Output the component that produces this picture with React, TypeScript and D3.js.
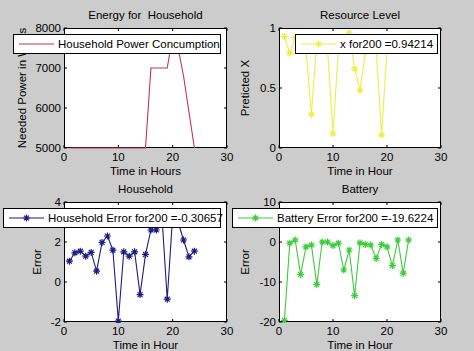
import * as d3 from 'd3';
import { useEffect, useRef } from 'react';

const hours = [1, 2, 3, 4, 5, 6, 7, 8, 9, 10, 11, 12, 13, 14, 15, 16, 17, 18, 19, 20, 21, 22, 23, 24];

const powerValues = [
  5000, 5000, 5000, 5000, 5000, 5000, 5000, 5000, 5000, 5000, 5000, 5000, 5000, 5000, 5000,
  7000, 7000, 7000, 7000, 7800, 7500, 6800, 5900, 5000,
];
const resourceValues = [
  0.93, 0.79, 0.92, 0.88, 0.82, 0.28, 0.9, 0.88, 0.82, 0.12, 0.82, 0.9,
  0.96, 0.66, 0.48, 0.8, 0.88, 0.82, 0.11, 0.82, 0.88, 0.9, 0.86, 0.9,
];
const householdErrorValues = [
  1.04, 1.46, 1.54, 1.29, 1.48, 0.54, 1.98, 2.3, 1.59, -1.95, 1.51, 1.29,
  1.51, -0.63, 1.38, 2.6, 2.6, 3.4, -0.86, 3.3, 3.0, 2.1, 1.26, 1.54,
];
const batteryErrorValues = [
  -19.6, -0.3, 0.5, -8.1, -1.2, -0.75, -10.6, 0, 0, -0.9, -0.3, -7,
  -2, -13.4, -0.2, -0.6, -0.75, -4.1, -0.6, -1.2, -5.9, 0.5, -7.8, 0.5,
];

const xTicks = [0, 10, 20, 30];
const powerTicks = [5000, 6000, 7000, 8000];
const resourceTicks = [0, 0.5, 1];
const householdTicks = [-2, 0, 2, 4];
const batteryTicks = [-20, -10, 0, 10];

const titles = ['Energy for  Household', 'Resource Level', 'Household', 'Battery'];
const xLabels = ['Time in Hours', 'Time in Hour', 'Time in Hour', 'Time in Hour'];
const yLabels = ['Needed Power in Watts', 'Preticted X', 'Error', 'Error'];
const legendLabels = [
  'Household Power Concumption',
  'x for200 =0.94214',
  'Household Error for200 =-0.30657',
  'Battery Error for200 =-19.6224',
];

const FONT = '"Liberation Sans", Arial, sans-serif';

const panels = [
  {
    values: powerValues, ticks: powerTicks, color: '#c03848', marker: false,
    box: [64, 28, 227, 148], yLabelX: 23, legend: [13, 34, 221, 54],
  },
  {
    values: resourceValues, ticks: resourceTicks, color: '#eeee48', marker: true,
    box: [279, 28, 441, 148], yLabelX: 246, legend: [295, 34, 438, 54],
  },
  {
    values: householdErrorValues, ticks: householdTicks, color: '#1c1c84', marker: true,
    box: [64, 202, 227, 322], yLabelX: 38, legend: [3, 208, 221, 228],
  },
  {
    values: batteryErrorValues, ticks: batteryTicks, color: '#3ccc3c', marker: true,
    box: [279, 202, 441, 322], yLabelX: 246, legend: [232, 208, 438, 228],
  },
];

function asterisk(cx, cy, r) {
  const d = r * 0.7;
  return `M${cx - r},${cy}L${cx + r},${cy}M${cx},${cy - r}L${cx},${cy + r}` +
    `M${cx - d},${cy - d}L${cx + d},${cy + d}M${cx - d},${cy + d}L${cx + d},${cy - d}`;
}

const App = () => {
  const ref = useRef(null);

  useEffect(() => {
    const svg = d3.select(ref.current);
    svg.selectAll('*').remove();

    svg.append('rect').attr('width', 474).attr('height', 351).attr('fill', '#cccccc');

    panels.forEach((panel, i) => {
      const [x0, y0, x1, y1] = panel.box;
      const x = d3.scaleLinear().domain([0, 30]).range([x0, x1]);
      const y = d3.scaleLinear()
        .domain([panel.ticks[0], panel.ticks[panel.ticks.length - 1]])
        .range([y1, y0]);

      const g = svg.append('g');
      g.append('rect')
        .attr('x', x0).attr('y', y0)
        .attr('width', x1 - x0).attr('height', y1 - y0)
        .attr('fill', '#ffffff');

      // ticks pointing inward on all four sides
      const tickLen = 3;
      xTicks.forEach((t) => {
        g.append('line').attr('x1', x(t)).attr('x2', x(t)).attr('y1', y1).attr('y2', y1 - tickLen)
          .attr('stroke', '#000');
        g.append('line').attr('x1', x(t)).attr('x2', x(t)).attr('y1', y0).attr('y2', y0 + tickLen)
          .attr('stroke', '#000');
        g.append('text')
          .attr('x', x(t)).attr('y', y1 + 13)
          .attr('text-anchor', 'middle')
          .style('font-family', FONT).style('font-size', '11.5px')
          .text(t);
      });
      panel.ticks.forEach((t) => {
        g.append('line').attr('x1', x0).attr('x2', x0 + tickLen).attr('y1', y(t)).attr('y2', y(t))
          .attr('stroke', '#000');
        g.append('line').attr('x1', x1).attr('x2', x1 - tickLen).attr('y1', y(t)).attr('y2', y(t))
          .attr('stroke', '#000');
        g.append('text')
          .attr('x', x0 - 3).attr('y', y(t) + 4)
          .attr('text-anchor', 'end')
          .style('font-family', FONT).style('font-size', '11.5px')
          .text(t);
      });

      g.append('rect')
        .attr('x', x0 + 0.5).attr('y', y0 + 0.5)
        .attr('width', x1 - x0 - 1).attr('height', y1 - y0 - 1)
        .attr('fill', 'none').attr('stroke', '#000');

      const clipId = `clip-panel-${i}`;
      g.append('clipPath').attr('id', clipId)
        .append('rect')
        .attr('x', x0).attr('y', y0 - 1)
        .attr('width', x1 - x0).attr('height', y1 - y0 + 2);

      const points = hours.map((h, k) => [h, panel.values[k]]);
      const line = d3.line().x((d) => x(d[0])).y((d) => y(d[1]));

      const plot = g.append('g').attr('clip-path', `url(#${clipId})`);
      plot.append('path')
        .attr('d', line(points))
        .attr('fill', 'none')
        .attr('stroke', panel.color)
        .attr('stroke-width', 1.1);

      if (panel.marker) {
        plot.selectAll('path.marker')
          .data(points)
          .enter()
          .append('path')
          .attr('class', 'marker')
          .attr('d', (d) => asterisk(x(d[0]), y(d[1]), 3.5))
          .attr('stroke', panel.color)
          .attr('stroke-width', 1.2)
          .attr('fill', 'none');
      }

      g.append('text')
        .attr('x', (x0 + x1) / 2).attr('y', y0 - 9)
        .attr('text-anchor', 'middle')
        .style('font-family', FONT).style('font-size', '11.5px')
        .style('white-space', 'pre')
        .text(titles[i]);

      g.append('text')
        .attr('x', (x0 + x1) / 2).attr('y', y1 + 27)
        .attr('text-anchor', 'middle')
        .style('font-family', FONT).style('font-size', '11.5px')
        .text(xLabels[i]);

      g.append('text')
        .attr('transform', `translate(${panel.yLabelX},${(y0 + y1) / 2}) rotate(-90)`)
        .attr('text-anchor', 'middle')
        .attr('dominant-baseline', 'middle')
        .style('font-family', FONT).style('font-size', '11.5px')
        .text(yLabels[i]);

      // legend
      const [lx0, ly0, lx1, ly1] = panel.legend;
      const lg = svg.append('g');
      lg.append('rect')
        .attr('x', lx0 + 0.5).attr('y', ly0 + 0.5)
        .attr('width', lx1 - lx0 - 1).attr('height', ly1 - ly0 - 1)
        .attr('fill', '#ffffff').attr('stroke', '#000');
      const ly = (ly0 + ly1) / 2;
      lg.append('line')
        .attr('x1', lx0 + 6).attr('x2', lx0 + 41).attr('y1', ly).attr('y2', ly)
        .attr('stroke', panel.color).attr('stroke-width', 1.1);
      if (panel.marker) {
        lg.append('path')
          .attr('d', asterisk(lx0 + 23.5, ly, 3.5))
          .attr('stroke', panel.color).attr('stroke-width', 1.2).attr('fill', 'none');
      }
      lg.append('text')
        .attr('x', lx0 + 45).attr('y', ly + 4)
        .style('font-family', FONT).style('font-size', '11.5px')
        .text(legendLabels[i]);
    });
  }, []);

  return (
    <svg
      ref={ref}
      width={474}
      height={351}
      style={{ position: 'absolute', left: 0, top: 0 }}
    />
  );
};

export default App;
